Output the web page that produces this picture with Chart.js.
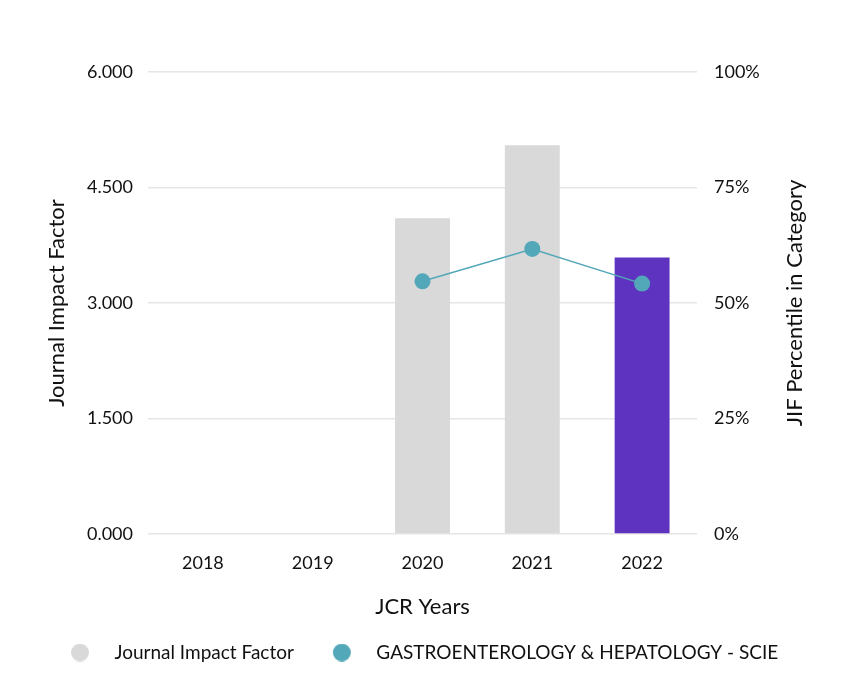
<!DOCTYPE html>
<html>
<head>
<meta charset="utf-8">
<script src="https://cdn.jsdelivr.net/npm/chart.js@4"></script>
<style>
  html, body { margin: 0; padding: 0; background: #fff; }
  #wrap { width: 864px; height: 696px; }
</style>
</head>
<body>
<div id="wrap"><canvas id="chart"></canvas></div>
<script>
const years = ['2018', '2019', '2020', '2021', '2022'];
const jifValues = [null, null, 4.10, 5.05, 3.59];
const percentileValues = [null, null, 54.7, 61.7, 54.2];
const jifTicks = [0, 1.5, 3, 4.5, 6];
const pctTicks = [0, 25, 50, 75, 100];
const rightTitle = 'JIF Percentile in Category';

const GREY = '#d9d9d9';
const PURPLE = '#5e33bf';
const TEAL = '#52a7b8';
const barColors = [GREY, GREY, GREY, GREY, PURPLE];
const FONT = 'Lato, "Noto Sans", sans-serif';

Chart.defaults.font.family = FONT;
Chart.defaults.color = '#111';

// legend dot: blank space on the left so the dots sit where the reference has them
function legendDot(color) {
  const c = document.createElement('canvas');
  c.width = 60; c.height = 18;
  const g = c.getContext('2d');
  g.fillStyle = color;
  g.beginPath();
  g.arc(35, 9, 9, 0, Math.PI * 2);
  g.fill();
  return c;
}

// right axis title reads bottom-to-top like the left one
const rightTitlePlugin = {
  id: 'rightTitle',
  afterDraw(chart) {
    const { ctx, chartArea } = chart;
    ctx.save();
    ctx.translate(795, (chartArea.top + chartArea.bottom) / 2);
    ctx.rotate(-Math.PI / 2);
    ctx.font = '22px ' + FONT;
    ctx.fillStyle = '#111';
    ctx.textAlign = 'center';
    ctx.textBaseline = 'middle';
    ctx.fillText(rightTitle, 0, 0);
    ctx.restore();
  }
};

new Chart(document.getElementById('chart'), {
  plugins: [rightTitlePlugin],
  data: {
    labels: years,
    datasets: [
      {
        type: 'line',
        label: 'GASTROENTEROLOGY & HEPATOLOGY - SCIE',
        data: percentileValues,
        yAxisID: 'yPct',
        borderColor: TEAL,
        backgroundColor: TEAL,
        borderWidth: 1.5,
        pointRadius: 8,
        pointHoverRadius: 8,
        pointBorderWidth: 0,
        order: 0
      },
      {
        type: 'bar',
        label: 'Journal Impact Factor',
        data: jifValues,
        yAxisID: 'yJif',
        backgroundColor: barColors,
        categoryPercentage: 1,
        barPercentage: 0.5,
        order: 1
      }
    ]
  },
  options: {
    responsive: true,
    maintainAspectRatio: false,
    animation: false,
    layout: { padding: { top: 72, left: 32, right: 15, bottom: 24 } },
    plugins: {
      tooltip: { enabled: false },
      legend: {
        position: 'bottom',
        align: 'start',
        reverse: true,
        labels: {
          usePointStyle: true,
          pointStyleWidth: 60,
          boxHeight: 18,
          padding: 13,
          font: { size: 19 },
          color: '#111',
          generateLabels: chart => {
            const items = Chart.defaults.plugins.legend.labels.generateLabels(chart);
            items.forEach(it => {
              it.pointStyle = it.text === 'Journal Impact Factor' ? legendDot(GREY) : legendDot(TEAL);
            });
            return items;
          }
        }
      }
    },
    scales: {
      x: {
        grid: { display: false, drawTicks: false },
        border: { display: false },
        ticks: { font: { size: 18 }, padding: 18 },
        title: { display: true, text: 'JCR Years', font: { size: 22 }, padding: { top: 0, bottom: 10 } },
        afterFit: s => { s.height = 96; }
      },
      yJif: {
        position: 'left',
        min: 0,
        max: 6,
        afterBuildTicks: axis => { axis.ticks = jifTicks.map(v => ({ value: v })); },
        grid: { color: '#e6e6e6', lineWidth: 1.5, drawTicks: false },
        border: { display: false },
        ticks: { font: { size: 18 }, padding: 15, callback: v => Number(v).toFixed(3) },
        title: { display: true, text: 'Journal Impact Factor', font: { size: 22 }, padding: { top: 12, bottom: 10 } },
        afterFit: s => { s.width = 116; }
      },
      yPct: {
        position: 'right',
        min: 0,
        max: 100,
        afterBuildTicks: axis => { axis.ticks = pctTicks.map(v => ({ value: v })); },
        grid: { display: false, drawTicks: false },
        border: { display: false },
        ticks: { font: { size: 18 }, padding: 17, callback: v => v + '%' },
        title: { display: false },
        afterFit: s => { s.width = 152; }
      }
    }
  }
});
</script>
</body>
</html>
